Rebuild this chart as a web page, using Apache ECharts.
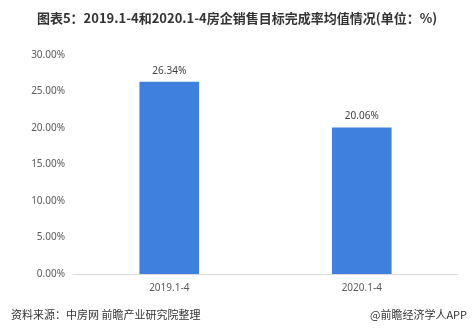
<!DOCTYPE html>
<html><head><meta charset="utf-8">
<script src="https://cdn.jsdelivr.net/npm/echarts@6/dist/echarts.min.js"></script>
<style>html,body{margin:0;padding:0;background:#fff}#c{width:474px;height:335px}</style>
</head><body><div id="c"></div>
<script>
const categories = ['2019.1-4', '2020.1-4'];
const values = [26.34, 20.06];
const yTicks = { min: 0, max: 30, interval: 5 };
const titleText = '图表5：2019.1-4和2020.1-4房企销售目标完成率均值情况(单位：%)';
const sourceText = '资料来源：中房网 前瞻产业研究院整理';
const brandText = '@前瞻经济学人APP';

const chart = echarts.init(document.getElementById('c'));
chart.setOption({
  animation: false,
  title: [
    { text: titleText, left: 'center', top: 7,
      textStyle: { fontSize: 13, fontWeight: 'bold', color: '#333', fontFamily: 'Noto Sans CJK SC' } },
    { text: sourceText, left: 6, top: 304,
      textStyle: { fontSize: 11, fontWeight: 'normal', color: '#333', fontFamily: 'Noto Sans CJK SC' } },
    { text: brandText, right: 2, top: 304,
      textStyle: { fontSize: 11, fontWeight: 'normal', color: '#333', fontFamily: 'Noto Sans CJK SC' } }
  ],
  grid: { left: 73, right: 16, top: 55, bottom: 61 },
  xAxis: {
    type: 'category', data: categories,
    axisLine: { lineStyle: { color: '#d9d9d9' } },
    axisTick: { show: false },
    axisLabel: { color: '#595959', fontSize: 10, margin: 9, fontFamily: 'Noto Sans' }
  },
  yAxis: {
    type: 'value', min: yTicks.min, max: yTicks.max, interval: yTicks.interval,
    axisLine: { show: false }, axisTick: { show: false }, splitLine: { show: false },
    axisLabel: { color: '#595959', fontSize: 10, margin: 8, fontFamily: 'Noto Sans',
      formatter: v => v.toFixed(2) + '%' }
  },
  series: [{
    type: 'bar', data: values, barWidth: '31%',
    itemStyle: { color: '#3f80df' },
    label: { show: true, position: 'top', color: '#404040', fontSize: 10, distance: 6,
      fontFamily: 'Noto Sans', formatter: p => p.value.toFixed(2) + '%' }
  }]
});
</script></body></html>
